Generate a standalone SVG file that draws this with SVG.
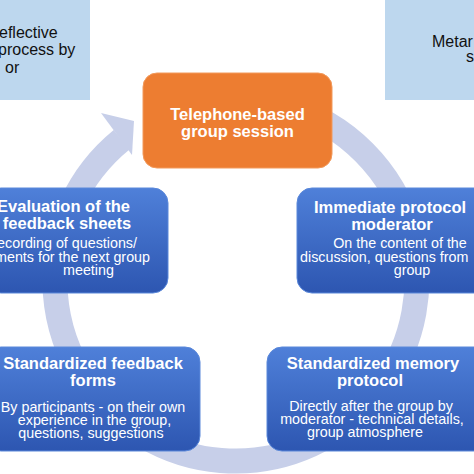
<svg xmlns="http://www.w3.org/2000/svg" width="474" height="474" viewBox="0 0 474 474">
<defs>
<linearGradient id="blueGrad" x1="0" y1="0" x2="0" y2="1">
<stop offset="0" stop-color="#4f80d9"/>
<stop offset="1" stop-color="#2d56b1"/>
</linearGradient>
<style>
.note{fill:#bdd7ee}
.note-t{font-family:"Liberation Sans",Arial,sans-serif;font-size:16px;fill:#111}
.blue{fill:url(#blueGrad);stroke:#5a88da;stroke-width:1}
.orange{fill:#ed7d31;stroke:#f29a5c;stroke-width:1}
.h{font-family:"Liberation Sans",Arial,sans-serif;font-size:16.5px;font-weight:bold;fill:#fff;text-anchor:middle}
.b{font-family:"Liberation Sans",Arial,sans-serif;font-size:14.3px;fill:#fff;text-anchor:middle}
.ring{fill:none;stroke:#c7cfe9;stroke-width:25}
</style>
</defs>
<rect width="474" height="474" fill="#fff"/>
<g id="connectors">
<path class="ring" d="M 204.6 101.8 A 181 181 0 1 1 121.6 139.7"/>
<polygon points="101,113 134,121 132,155" fill="#c7cfe9"/>
</g>
<g id="note-left">
<rect class="note" x="-10" y="-10" width="100" height="110"/>
<text class="note-t" x="-1" y="38">eflective</text>
<text class="note-t" x="-2" y="55">process by</text>
<text class="note-t" x="5" y="72.5">or</text>
</g>
<g id="note-right">
<rect class="note" x="385" y="-10" width="100" height="110"/>
<text class="note-t" x="432" y="47">Metar</text>
<text class="note-t" x="466" y="62">s</text>
</g>
<g id="telephone">
<rect class="orange" x="143" y="73" width="189" height="95" rx="14"/>
<text class="h" x="237.5" y="120">Telephone-based</text>
<text class="h" x="237.5" y="137">group session</text>
</g>
<g id="evaluation">
<rect class="blue" x="-14" y="188" width="182" height="105" rx="15"/>
<text class="h" x="63.5" y="211.5">Evaluation of the</text>
<text class="h" x="67" y="229">feedback sheets</text>
<text class="b" x="137" y="248.3" style="text-anchor:end">ecording of questions/</text>
<text class="b" x="150" y="261.6" style="text-anchor:end">ments for the next group</text>
<text class="b" x="88.5" y="274.5">meeting</text>
</g>
<g id="immediate">
<rect class="blue" x="297" y="188" width="192" height="105" rx="15"/>
<text class="h" x="390" y="213">Immediate protocol</text>
<text class="h" x="392" y="229.5">moderator</text>
<text class="b" x="400" y="248">On the content of the</text>
<text class="b" x="300" y="261.5" style="text-anchor:start">discussion, questions from</text>
<text class="b" x="412" y="274.5">group</text>
</g>
<g id="feedback-forms">
<rect class="blue" x="-14" y="347" width="214" height="104" rx="15"/>
<text class="h" x="93" y="368.5">Standardized feedback</text>
<text class="h" x="93" y="385.5">forms</text>
<text class="b" x="93" y="411.5">By participants - on their own</text>
<text class="b" x="94.5" y="424.5">experience in the group,</text>
<text class="b" x="91" y="437.5">questions, suggestions</text>
</g>
<g id="memory-protocol">
<rect class="blue" x="267" y="347" width="222" height="104" rx="15"/>
<text class="h" x="373" y="368.5">Standardized memory</text>
<text class="h" x="370" y="385.5">protocol</text>
<text class="b" x="371" y="410.5">Directly after the group by</text>
<text class="b" x="372" y="423.5">moderator - technical details,</text>
<text class="b" x="365" y="436.5">group atmosphere</text>
</g>
</svg>
